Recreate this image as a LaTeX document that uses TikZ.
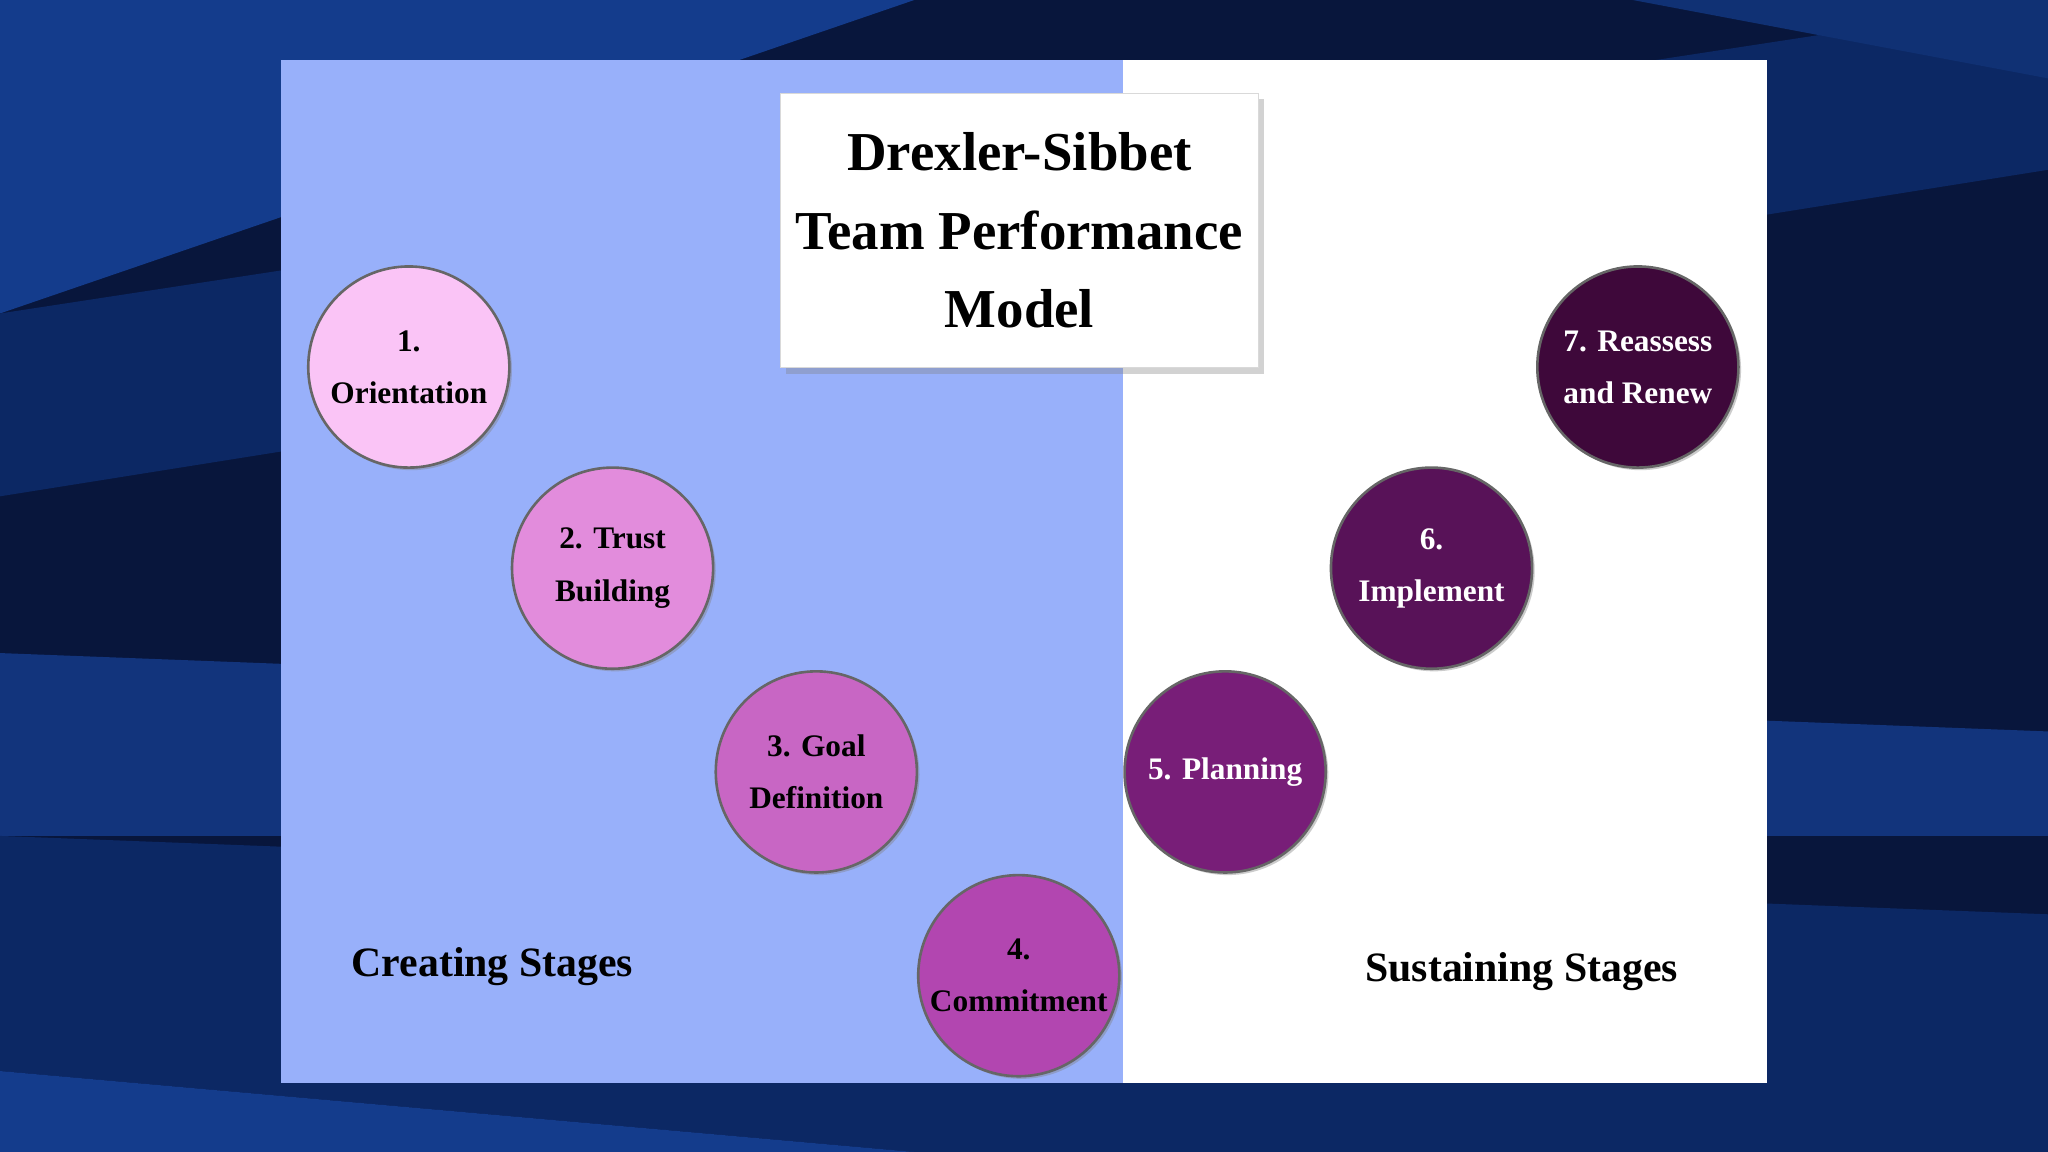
\documentclass[tikz,border=0pt]{standalone}
\usepackage{fontspec}
\setmainfont{Liberation Serif}
\usetikzlibrary{shadows}
\definecolor{navy}{RGB}{8,22,60}
\definecolor{streakA}{RGB}{20,60,140}
\definecolor{streakB}{RGB}{12,40,100}
\definecolor{panelblue}{RGB}{152,176,250}
\definecolor{c1}{RGB}{250,196,246}
\definecolor{c2}{RGB}{226,140,220}
\definecolor{c3}{RGB}{200,102,196}
\definecolor{c4}{RGB}{178,70,176}
\definecolor{c5}{RGB}{120,30,120}
\definecolor{c6}{RGB}{88,18,88}
\definecolor{c7}{RGB}{62,8,58}
\tikzset{
  stage/.style={circle,minimum size=77pt,inner sep=0pt,draw=black!60,line width=1pt,
    drop shadow={opacity=0.4,shadow xshift=1pt,shadow yshift=-1pt},
    font=\bfseries\fontsize{12}{20}\selectfont,align=center},
  lbl/.style={font=\bfseries\fontsize{16}{20}\selectfont}
}
\begin{document}
\begin{tikzpicture}[x=0.5pt,y=-0.5pt]
\useasboundingbox (0,0) rectangle (1568,882);
\fill[navy] (0,0) rectangle (1568,882);
\fill[streakA] (0,0) -- (700,0) -- (0,240) -- cycle;
\fill[streakB] (0,240) -- (1568,0) -- (1568,130) -- (0,380) -- cycle;
\fill[streakA!80!navy] (0,500) -- (1568,560) -- (1568,640) -- (0,640) -- cycle;
\fill[streakB] (0,640) -- (1568,700) -- (1568,882) -- (700,882) -- (0,820) -- cycle;
\fill[streakA] (0,820) -- (700,882) -- (0,882) -- cycle;
\fill[streakA!70!navy] (1250,0) -- (1568,0) -- (1568,60) -- cycle;
% panel
\fill[white] (215,46) rectangle (1353,829);
\fill[panelblue] (215,46) rectangle (860,829);
\node[lbl] (cs) at (377,740) {Creating Stages};
\node[lbl] (ss) at (1165,744) {Sustaining Stages};
% title
\node[fill=white,draw=black!15,drop shadow={opacity=0.35},minimum width=183pt,minimum height=105pt,
  font=\bfseries\fontsize{21}{31}\selectfont,align=center] (title) at (780.5,176.5)
  {Drexler-Sibbet\\[-1pt]Team Performance\\[-1pt]Model};
\node[stage,fill=c1] (s1) at (313,281) {1.\\Orientation};
\node[stage,fill=c2] (s2) at (469,435) {2. Trust\\Building};
\node[stage,fill=c3] (s3) at (625,591) {3. Goal\\Definition};
\node[stage,fill=c4] (s4) at (780,747) {4.\\Commitment};
\node[stage,fill=c5,text=white] (s5) at (938,591) {5. Planning};
\node[stage,fill=c6,text=white] (s6) at (1096,435) {6.\\Implement};
\node[stage,fill=c7,text=white] (s7) at (1254,281) {7. Reassess\\and Renew};
\end{tikzpicture}
\end{document}
